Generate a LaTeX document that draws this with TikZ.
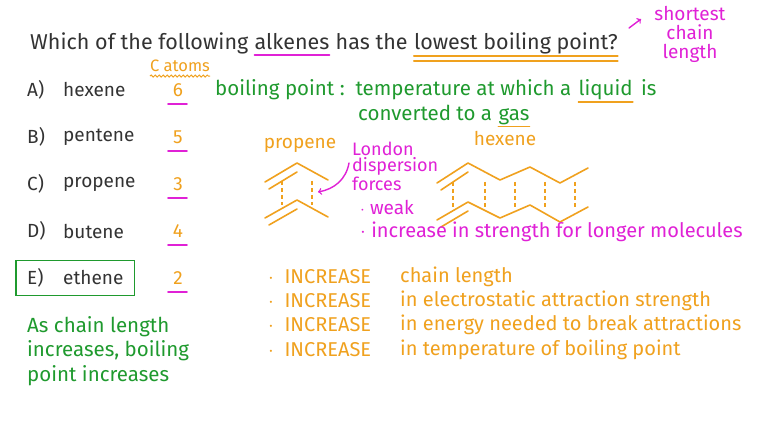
\documentclass[tikz,border=0pt]{standalone}
\usepackage{fontspec}
\setmainfont{Fira Sans}
\usetikzlibrary{positioning,fit,decorations.pathmorphing}
\definecolor{inkgray}{HTML}{333333}
\definecolor{inkorange}{HTML}{F0A11E}
\definecolor{inkmagenta}{HTML}{E021D6}
\definecolor{inkgreen}{HTML}{1F9A2E}
\begin{document}
\begin{tikzpicture}
[x=1pt,y=-1pt,
  titleword/.style={inner sep=0pt,font=\fontsize{21.5}{24}\selectfont},
  bigword/.style={inner sep=0pt,font=\fontsize{19}{22}\selectfont},
  midword/.style={inner sep=0pt,font=\fontsize{20}{23}\selectfont},
  smallword/.style={inner sep=0pt,font=\fontsize{19}{19}\selectfont},
  orangeline/.style={-,draw=inkorange,line width=1.6pt,line cap=round},
  magline/.style={-,draw=inkmagenta,line width=1.6pt,line cap=round},
  magarrow/.style={->,draw=inkmagenta,line width=1.4pt,line cap=round},
  bondline/.style={-,draw=inkorange,line width=1.6pt,line cap=round,line join=round},
  forceline/.style={-,draw=inkorange,line width=1.4pt,dash pattern=on 4pt off 3pt}]
\useasboundingbox[fill=white] (0,0) rectangle (760,427);
%% question
\node (q1) at (30,43) [anchor=west,titleword,text=inkgray] {Which of the following};
\node (qalk) [titleword,text=inkgray,base right=6pt of q1] {alkenes};
\node (q2) [titleword,text=inkgray,base right=6pt of qalk] {has the};
\node (qlow) [titleword,text=inkgray,base right=6pt of q2] {lowest boiling point?};
\draw[magline] ([yshift=-6pt]qalk.base west) -- ([yshift=-6pt]qalk.base east);
\draw[orangeline] ([yshift=-7pt]qlow.base west) -- ([yshift=-7pt]qlow.base east);
\draw[orangeline] ([yshift=-12pt]qlow.base west) -- ([yshift=-12pt]qlow.base east);
\node (short) at (690,34) [smallword,text=inkmagenta,align=center] {shortest\\chain\\length};
\coordinate (shorttail) at (629,28);
\coordinate (shorttip) at (641,19);
\draw[magarrow] (shorttail) -- (shorttip);
%% options
\node (catoms) at (180,66) [inner sep=0pt,font=\fontsize{16.5}{18}\selectfont,
  text=inkorange] {C atoms};
\draw[inkorange,line width=1pt,decorate,
  decoration={snake,amplitude=1pt,segment length=4pt}]
  ([yshift=-4pt]catoms.south west) -- ([yshift=-4pt]catoms.south east);
\foreach \nodename/\letter/\alkene/\carbons/\y in {a/A/hexene/6/90,
  b/B/pentene/5/137, c/C/propene/3/184, d/D/butene/4/231, e/E/ethene/2/278} {
  \node (let\nodename) at (27,\y) [anchor=west,bigword,text=inkgray] {\letter)};
  \node (alk\nodename) at (63,\y) [anchor=west,bigword,text=inkgray] {\alkene};
  \node (num\nodename) at (178,\y) [bigword,text=inkorange] {\carbons};
  \draw[magline] ([xshift=-10pt,yshift=-14pt]num\nodename.center)
    -- ([xshift=9pt,yshift=-14pt]num\nodename.center);
}
\node (answer) [draw=inkgreen,line width=1.6pt,inner xsep=11pt,inner ysep=8pt,
  fit=(lete)(alke)] {};
%% definition
\node (bp) at (215,90) [anchor=west,font=\fontsize{20.5}{23}\selectfont,inner sep=0pt,
  text=inkgreen] {boiling point :\ \ temperature at which a};
\node (liq) [font=\fontsize{20.5}{23}\selectfont,inner sep=0pt,text=inkgreen,
  base right=7pt of bp] {liquid};
\node (is) [font=\fontsize{20.5}{23}\selectfont,inner sep=0pt,text=inkgreen,
  base right=8pt of liq] {is};
\node (conv) at (358,113) [anchor=west,font=\fontsize{20.5}{23}\selectfont,
  inner sep=0pt,text=inkgreen] {converted to a};
\node (gas) [font=\fontsize{20.5}{23}\selectfont,inner sep=0pt,text=inkgreen,
  base right=6pt of conv] {gas};
\draw[orangeline] ([yshift=-6pt]liq.base west) -- ([yshift=-6pt]liq.base east);
\draw[orangeline] ([yshift=-6pt]gas.base west) -- ([yshift=-6pt]gas.base east);
%% molecules
\node (prop) at (300,145) [smallword,text=inkorange] {propene};
\node (hex) at (505,139) [smallword,text=inkorange] {hexene};
\draw[bondline] (265,182) -- (297,163) -- (328,180);
\draw[bondline] (269,189) -- (297,172);
\draw[bondline] (265,218) -- (297,200) -- (328,217);
\draw[bondline] (269,225) -- (297,209);
\foreach \x in {282,312} {
  \draw[forceline] (\x,181) -- (\x,205);
}
\draw[bondline] (437,183) -- (468,163) -- (500,180) -- (530,167) -- (560,183) -- (588,168);
\draw[bondline] (441,190) -- (468,172);
\draw[bondline] (437,220) -- (468,202) -- (500,218) -- (530,205) -- (560,222) -- (588,207);
\draw[bondline] (441,227) -- (468,211);
\foreach \x in {453,485,515,545,575} {
  \draw[forceline] (\x,182) -- (\x,208);
}
\node (ldf) at (352,166) [anchor=west,inner sep=0pt,text=inkmagenta,align=left,
  font=\fontsize{18}{16.5}\selectfont] {London\\dispersion\\forces};
\coordinate (dashtip) at (318,192);
\draw[magarrow] ([xshift=-3pt,yshift=3pt]ldf.west) to[out=-100,in=10] (dashtip);
\node (weak) at (360,207) [anchor=west,smallword,text=inkmagenta] {$\cdot$ weak};
\node (strength) at (360,232) [anchor=west,midword,text=inkmagenta]
  {$\cdot$ increase in strength for longer molecules};
%% trends
\foreach \nodename/\rest/\y in {t1/chain length/277,
  t2/in electrostatic attraction strength/301,
  t3/in energy needed to break attractions/325,
  t4/in temperature of boiling point/350} {
  \node (inc\nodename) at (268,\y) [anchor=west,midword,text=inkorange]
    {$\cdot$\ \ INCREASE};
  \node (rest\nodename) at (400,\y) [anchor=west,midword,text=inkorange] {\rest};
}
\node (concl) at (27,351) [anchor=west,text=inkgreen,align=left,inner sep=0pt,
  font=\fontsize{20.5}{24.5}\selectfont]
  {As chain length\\increases, boiling\\point increases};
\end{tikzpicture}
\end{document}
